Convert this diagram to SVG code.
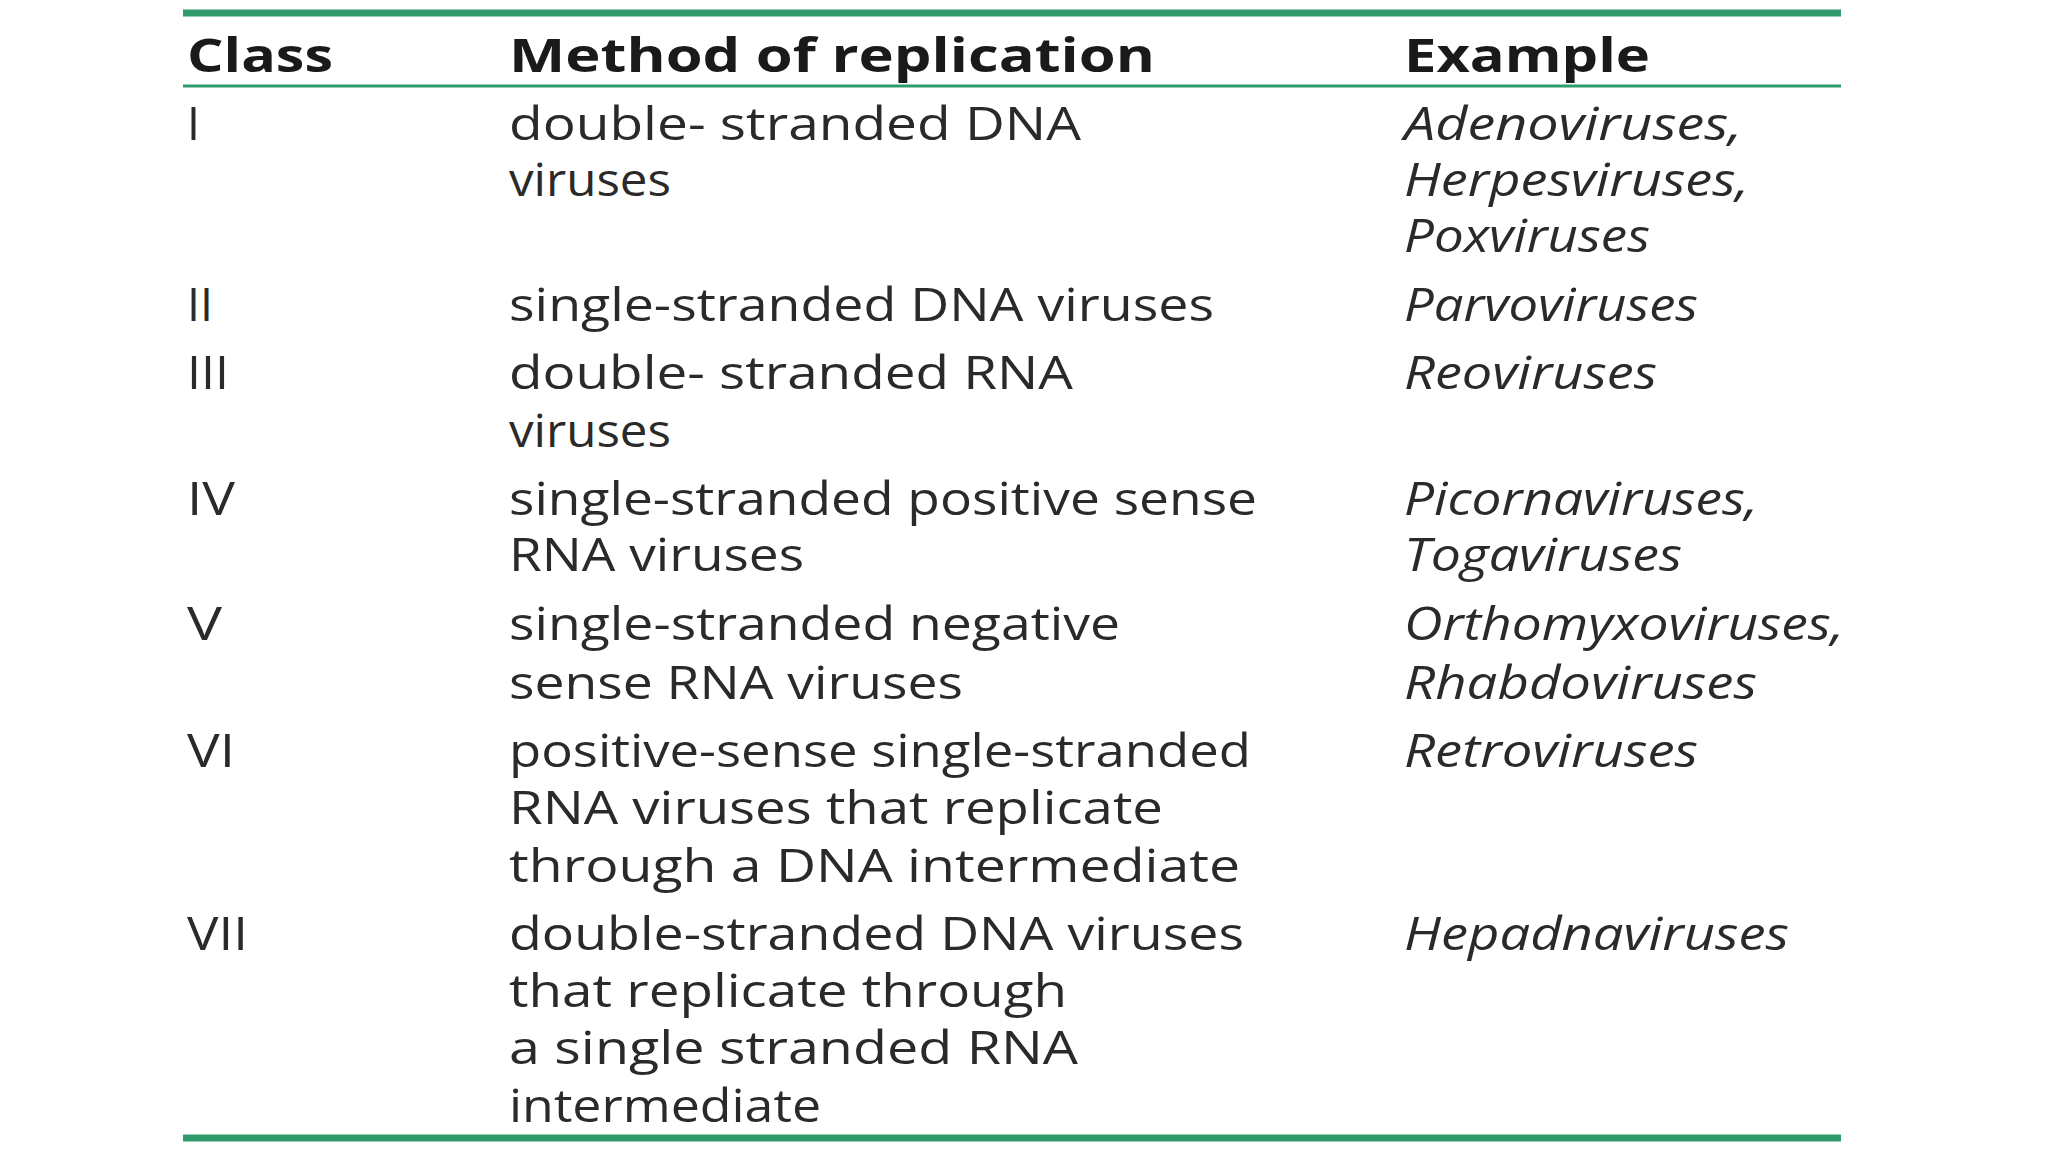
<svg xmlns="http://www.w3.org/2000/svg" width="2048" height="1152" viewBox="0 0 2048 1152">
<style>
text{font-family:"Open Sans","Liberation Sans",sans-serif;font-size:46px;fill:#2a2a2a}
.h{font-weight:bold;fill:#1a1a1a}
.i{font-style:italic}
.rule{stroke:#2f9b6c}
</style>
<rect width="2048" height="1152" fill="#fff"/>
<g id="rules">
<line class="rule" x1="183" y1="13" x2="1841" y2="13" stroke-width="7"/>
<line class="rule" x1="183" y1="86" x2="1841" y2="86" stroke-width="3"/>
<line class="rule" x1="183" y1="1138" x2="1841" y2="1138" stroke-width="7"/>
</g>
<g id="header">
<text class="h" x="187" y="72" textLength="146" lengthAdjust="spacingAndGlyphs">Class</text>
<text class="h" x="509" y="72" textLength="646" lengthAdjust="spacingAndGlyphs">Method of replication</text>
<text class="h" x="1404" y="72" textLength="246" lengthAdjust="spacingAndGlyphs">Example</text>
</g>
<g id="row1">
<text x="187" y="140">I</text>
<text x="509" y="140" textLength="572" lengthAdjust="spacingAndGlyphs">double- stranded DNA</text>
<text x="509" y="196" textLength="162" lengthAdjust="spacingAndGlyphs">viruses</text>
<text class="i" x="1404" y="140" textLength="338" lengthAdjust="spacingAndGlyphs">Adenoviruses,</text>
<text class="i" x="1404" y="196" textLength="345" lengthAdjust="spacingAndGlyphs">Herpesviruses,</text>
<text class="i" x="1404" y="252" textLength="246" lengthAdjust="spacingAndGlyphs">Poxviruses</text>
</g>
<g id="row2">
<text x="187" y="321" textLength="26" lengthAdjust="spacingAndGlyphs">II</text>
<text x="509" y="321" textLength="705" lengthAdjust="spacingAndGlyphs">single-stranded DNA viruses</text>
<text class="i" x="1404" y="321" textLength="294" lengthAdjust="spacingAndGlyphs">Parvoviruses</text>
</g>
<g id="row3">
<text x="187" y="389" textLength="42" lengthAdjust="spacingAndGlyphs">III</text>
<text x="509" y="389" textLength="564" lengthAdjust="spacingAndGlyphs">double- stranded RNA</text>
<text x="509" y="447" textLength="162" lengthAdjust="spacingAndGlyphs">viruses</text>
<text class="i" x="1404" y="389" textLength="253" lengthAdjust="spacingAndGlyphs">Reoviruses</text>
</g>
<g id="row4">
<text x="187" y="515" textLength="48" lengthAdjust="spacingAndGlyphs">IV</text>
<text x="509" y="515" textLength="748" lengthAdjust="spacingAndGlyphs">single-stranded positive sense</text>
<text x="509" y="571" textLength="295" lengthAdjust="spacingAndGlyphs">RNA viruses</text>
<text class="i" x="1404" y="515" textLength="354" lengthAdjust="spacingAndGlyphs">Picornaviruses,</text>
<text class="i" x="1404" y="571" textLength="278" lengthAdjust="spacingAndGlyphs">Togaviruses</text>
</g>
<g id="row5">
<text x="187" y="640" textLength="35" lengthAdjust="spacingAndGlyphs">V</text>
<text x="509" y="640" textLength="611" lengthAdjust="spacingAndGlyphs">single-stranded negative</text>
<text x="509" y="699" textLength="454" lengthAdjust="spacingAndGlyphs">sense RNA viruses</text>
<text class="i" x="1404" y="640" textLength="440" lengthAdjust="spacingAndGlyphs">Orthomyxoviruses,</text>
<text class="i" x="1404" y="699" textLength="353" lengthAdjust="spacingAndGlyphs">Rhabdoviruses</text>
</g>
<g id="row6">
<text x="187" y="767" textLength="48" lengthAdjust="spacingAndGlyphs">VI</text>
<text x="509" y="767" textLength="742" lengthAdjust="spacingAndGlyphs">positive-sense single-stranded</text>
<text x="509" y="824" textLength="654" lengthAdjust="spacingAndGlyphs">RNA viruses that replicate</text>
<text x="509" y="882" textLength="731" lengthAdjust="spacingAndGlyphs">through a DNA intermediate</text>
<text class="i" x="1404" y="767" textLength="294" lengthAdjust="spacingAndGlyphs">Retroviruses</text>
</g>
<g id="row7">
<text x="187" y="950" textLength="61" lengthAdjust="spacingAndGlyphs">VII</text>
<text x="509" y="950" textLength="735" lengthAdjust="spacingAndGlyphs">double-stranded DNA viruses</text>
<text x="509" y="1007" textLength="558" lengthAdjust="spacingAndGlyphs">that replicate through</text>
<text x="509" y="1064" textLength="569" lengthAdjust="spacingAndGlyphs">a single stranded RNA</text>
<text x="509" y="1122" textLength="312" lengthAdjust="spacingAndGlyphs">intermediate</text>
<text class="i" x="1404" y="950" textLength="385" lengthAdjust="spacingAndGlyphs">Hepadnaviruses</text>
</g>
</svg>
